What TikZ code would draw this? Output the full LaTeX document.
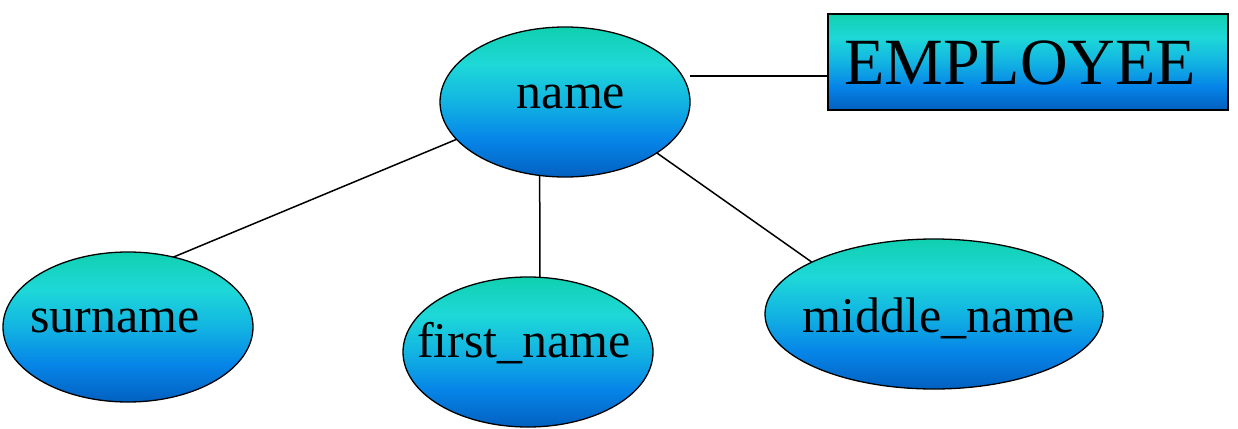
\documentclass[tikz,border=0pt]{standalone}
\usepackage{fontspec}
\setmainfont{Liberation Serif}
\usetikzlibrary{shapes.geometric}
\definecolor{gTeal}{HTML}{10D0B0}
\definecolor{gCyan}{HTML}{1ED8D8}
\definecolor{gMid}{HTML}{12B4E2}
\definecolor{gBlue}{HTML}{0685E8}
\definecolor{gDark}{HTML}{0260C0}
\pgfdeclareverticalshading{ergshade}{100bp}{color(0bp)=(gDark); color(25bp)=(gDark); color(37.5bp)=(gBlue); color(50bp)=(gMid); color(62.5bp)=(gCyan); color(75bp)=(gTeal); color(100bp)=(gTeal)}
\tikzset{
  attr/.style={ellipse, draw=black, line width=1.3pt, shading=ergshade, inner sep=0pt, outer sep=0pt, minimum height=150pt},
  entity/.style={rectangle, draw=black, line width=2pt, shading=ergshade, inner sep=0pt, outer sep=0pt, minimum width=400pt, minimum height=96pt},
  lbl/.style={anchor=base, inner sep=0pt, font=\fontsize{50pt}{60pt}\selectfont},
  elbl/.style={anchor=base, inner sep=0pt, font=\fontsize{66pt}{78pt}\selectfont},
  link/.style={draw=black, line width=1.5pt}
}
\begin{document}
\begin{tikzpicture}[x=1pt,y=-1pt]
\useasboundingbox (0,0) rectangle (1238,428);
\node[attr, minimum width=250pt] (name) at (565,102) {};
\node[attr, minimum width=250pt] (surname) at (128,327) {};
\node[attr, minimum width=250pt] (first) at (528,352) {};
\node[attr, minimum width=338pt] (middle) at (934,314) {};
\node[entity] (emp) at (1028,62) {};
\node[lbl] (nameT) at (571,108) {name};
\node[lbl] (surnameT) at (115,332) {surname};
\node[lbl] (firstT) at (524,357) {first\_name};
\node[lbl] (middleT) at (939,332) {middle\_name};
\node[elbl] (empT) at (1020,84) {EMPLOYEE};
\coordinate (j) at ([yshift=26pt]name.east);
\draw[link] (j) -- (j -| emp.west);
\draw[link] (name.199) -- (surname.57);
\draw[link] (name.251) -- (first.81);
\draw[link] (name.331) -- (middle.157);
\end{tikzpicture}
\end{document}
